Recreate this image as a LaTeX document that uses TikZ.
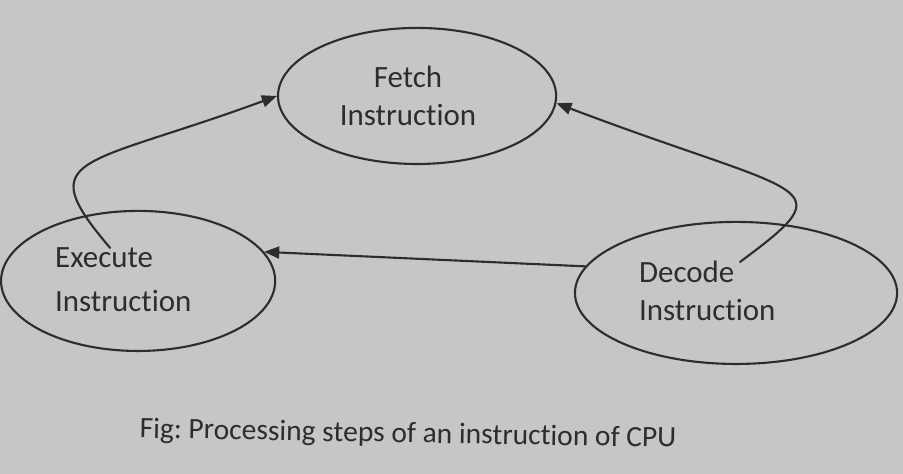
\documentclass[tikz,border=0pt]{standalone}
\usepackage{fontspec}
\setmainfont{Carlito}[Ligatures=NoCommon]
\usetikzlibrary{shapes.geometric,arrows.meta}
\definecolor{page}{RGB}{198,198,196}
\definecolor{ink}{RGB}{45,45,45}
\frenchspacing
\begin{document}
\begin{tikzpicture}[x=0.01cm,y=0.01cm,>={Triangle[length=4.3pt,width=3.4pt]},color=ink,line width=0.6pt,line join=round,line cap=round,
	oval/.style={ellipse,draw,inner sep=0pt},
	lbl/.style={inner sep=0pt,align=left,font=\fontsize{8.8}{11}\selectfont}]
				\fill[page] (0,0) rectangle (903,474); % page
				\node[oval,minimum width=2.78cm,minimum height=1.36cm] (fetch) at (417,378) {};
				\node[oval,minimum width=2.74cm,minimum height=1.40cm] (execute) at (138,193) {};
				\node[oval,minimum width=3.22cm,minimum height=1.42cm] (decode) at (736,181) {};
				\node[lbl,align=center] (fetchlbl) at (408,378) {Fetch\\Instruction};
				\node[lbl,anchor=west] (executelbl) at (54,194) {Execute\\[1.5pt]Instruction};
				\node[lbl,anchor=west] (decodelbl) at (638,183) {Decode\\Instruction};
				\coordinate (exstart) at (110,226);
				\coordinate (destart) at (740,212);
				\draw[->] (exstart) .. controls (30,320) and (81,306) .. (fetch.west);
				\draw[->] (destart) .. controls (848,292) and (806,276) .. (fetch.-3);
				\draw[->] (decode.170) -- (execute.13);
				\node[inner sep=0pt,rotate=-1,font=\fontsize{8.4}{10}\selectfont] (caption) at (408,39) {Fig: Processing steps of an instruction of CPU};
\end{tikzpicture}
\end{document}
